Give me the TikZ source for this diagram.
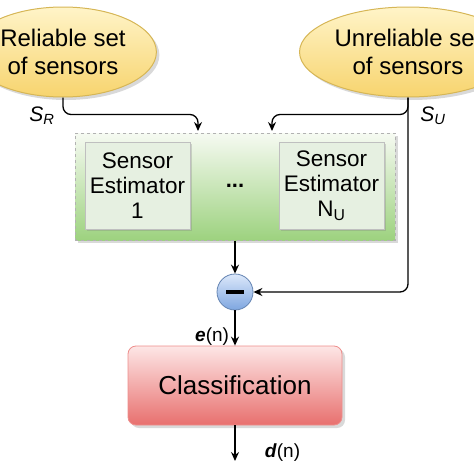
\documentclass[tikz,border=0pt]{standalone}
\usepackage{fontspec}
\setmainfont{Liberation Sans}
\usetikzlibrary{shapes.geometric,arrows.meta,shadows,positioning}

\definecolor{setline}{HTML}{D6B656}
\definecolor{settop}{HTML}{FFF4C8}
\definecolor{setbot}{HTML}{F7D46E}
\definecolor{esttop}{HTML}{F6FAF2}
\definecolor{estbot}{HTML}{9DD27F}
\definecolor{estfill}{HTML}{E6F0E1}
\definecolor{subtop}{HTML}{DCE8FA}
\definecolor{subbot}{HTML}{7EA6E0}
\definecolor{clstop}{HTML}{FDE6E6}
\definecolor{clsbot}{HTML}{E8706E}

\tikzset{
  sensorset/.style={ellipse, draw=setline, line width=1pt, top color=settop,
    bottom color=setbot, minimum width=182pt, minimum height=90pt,
    align=center, font=\fontsize{24}{28}\selectfont,
    drop shadow={shadow xshift=3pt, shadow yshift=-3pt, opacity=0.3}},
  estgroup/.style={rectangle, draw=gray!60, dashed, line width=1pt,
    top color=esttop, bottom color=estbot, minimum width=320pt, minimum height=107pt,
    drop shadow={shadow xshift=3pt, shadow yshift=-3pt, opacity=0.3}},
  estimator/.style={rectangle, draw=gray!50, fill=estfill, line width=0.8pt,
    minimum width=105pt, minimum height=87pt, align=center,
    font=\fontsize{22.5}{25}\selectfont,
    drop shadow={shadow xshift=2pt, shadow yshift=-2pt, opacity=0.3}},
  subnode/.style={circle, draw=subbot!80!black, line width=0.8pt, top color=subtop,
    bottom color=subbot, minimum size=36pt, inner sep=0pt},
  classbox/.style={rectangle, rounded corners=8pt, draw=clsbot!80!white, line width=0.8pt,
    top color=clstop, bottom color=clsbot, minimum width=214pt, minimum height=79pt,
    font=\fontsize{26}{30}\selectfont,
    drop shadow={shadow xshift=3pt, shadow yshift=-3pt, opacity=0.3}},
  arr/.style={-{Stealth[length=9pt,width=8pt,inset=3pt]}, line width=1.3pt, rounded corners=8pt},
  lbl/.style={font=\fontsize{19}{22}\selectfont}
}

\begin{document}
\begin{tikzpicture}[x=1pt, y=-1pt]
  \useasboundingbox (0,0) rectangle (474,474);
  \clip (0,0) rectangle (474,474);

  % Define nodes
  \node[sensorset]                 (rel)   at (63,52)    {Reliable set\\of sensors};
  \node[sensorset]                 (unrel) at (408,52)   {Unreliable set\\of sensors};
  \node[estgroup]                  (est)   at (235,186.5) {};
  \node[estimator]                 (est-1) at (137.5,185.5) {Sensor\\Estimator\\1};
  \node[estimator]                 (est-n) at (331.5,185.5) {Sensor\\Estimator\\N\textsubscript{U}};
  \node[font=\fontsize{22}{24}\selectfont\bfseries] (dots) at (235,186) {...};
  \node[subnode]                   (sub)   at (235,292)  {\rule{18pt}{3.8pt}};
  \node[classbox]                  (cls)   at (235,385.5) {Classification};
  \coordinate                      (in-r)  at (198,131);
  \coordinate                      (in-u)  at (272,131);
  \coordinate                      (out)   at (235,461);

  % Connect the nodes
  \draw[arr] (rel.south) -- ++(0,17) -| (in-r);
  \draw[arr] (unrel.south) -- ++(0,17) -| (in-u);
  \draw[arr] (unrel.south) |- (sub.east);
  \draw[arr] (est.south) -- (sub.north);
  \draw[arr] (sub.south) -- node[lbl, left=2pt, pos=0.75] {\textbf{\textit{e}}(n)} (cls.north);
  \draw[arr] (cls.south) -- node[lbl, right=26pt, pos=0.75] {\textbf{\textit{d}}(n)} (out);

  % Labels
  \node[font=\fontsize{21}{24}\selectfont] (s-r) at (42,116) {\textit{S}\textsubscript{\textit{R}}};
  \node[font=\fontsize{21}{24}\selectfont] (s-u) at (433,116) {\textit{S}\textsubscript{\textit{U}}};

\end{tikzpicture}
\end{document}
